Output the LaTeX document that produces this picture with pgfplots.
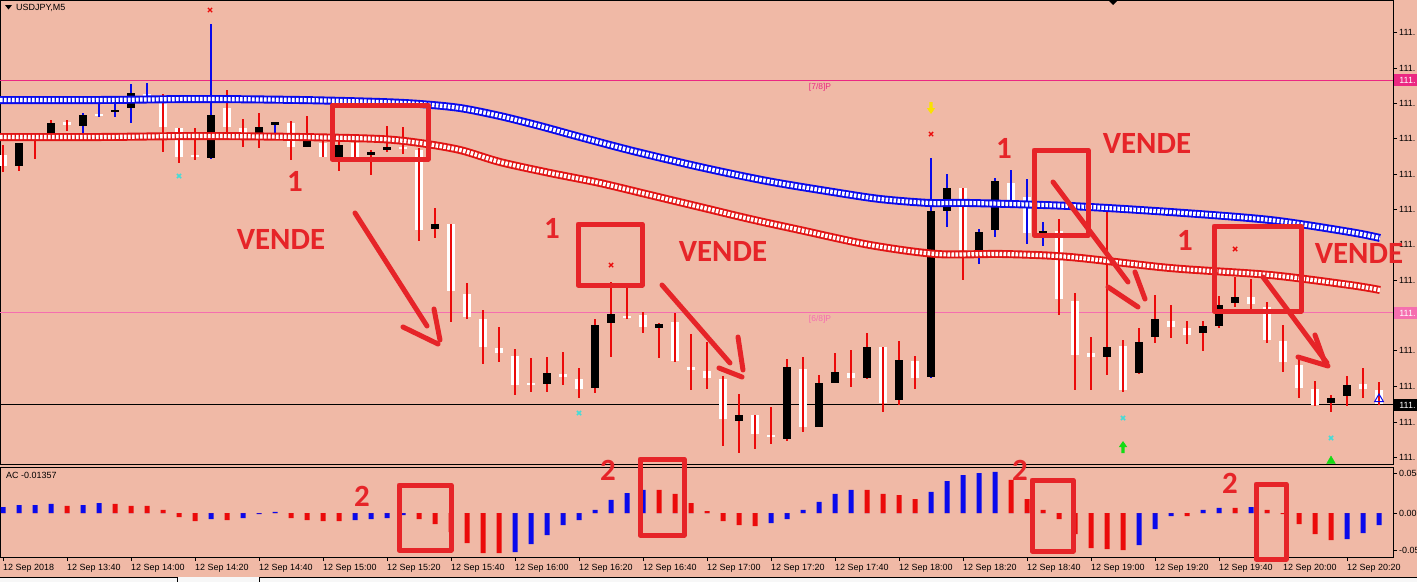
\documentclass[border=0pt]{standalone}
\usepackage{pgfplots}
\pgfplotsset{compat=1.18}
\usepackage{pgfplotstable}
\usepackage{fontspec}
\setmainfont{Liberation Sans}
\newfontfamily\annfont{Carlito}
\definecolor{bg}{RGB}{240,185,166}
\definecolor{annred}{RGB}{230,36,40}
\definecolor{wickred}{RGB}{235,10,10}
\definecolor{mablue}{RGB}{10,10,235}
\definecolor{mared}{RGB}{225,20,20}
\definecolor{lvl78}{RGB}{235,40,130}
\definecolor{lvl68}{RGB}{245,110,175}
\definecolor{cyanx}{RGB}{70,220,215}
\definecolor{arrgreen}{RGB}{20,220,20}
\definecolor{arryellow}{RGB}{250,225,0}

\pgfdeclareplotmark{dnarrow}{%
  \pgfpathmoveto{\pgfqpoint{-0.28\pgfplotmarksize}{\pgfplotmarksize}}%
  \pgfpathlineto{\pgfqpoint{0.28\pgfplotmarksize}{\pgfplotmarksize}}%
  \pgfpathlineto{\pgfqpoint{0.28\pgfplotmarksize}{0pt}}%
  \pgfpathlineto{\pgfqpoint{0.7\pgfplotmarksize}{0pt}}%
  \pgfpathlineto{\pgfqpoint{0pt}{-\pgfplotmarksize}}%
  \pgfpathlineto{\pgfqpoint{-0.7\pgfplotmarksize}{0pt}}%
  \pgfpathlineto{\pgfqpoint{-0.28\pgfplotmarksize}{0pt}}%
  \pgfpathclose\pgfusepathqfill}
\pgfdeclareplotmark{uparrow}{%
  \pgfpathmoveto{\pgfqpoint{-0.28\pgfplotmarksize}{-\pgfplotmarksize}}%
  \pgfpathlineto{\pgfqpoint{0.28\pgfplotmarksize}{-\pgfplotmarksize}}%
  \pgfpathlineto{\pgfqpoint{0.28\pgfplotmarksize}{0pt}}%
  \pgfpathlineto{\pgfqpoint{0.7\pgfplotmarksize}{0pt}}%
  \pgfpathlineto{\pgfqpoint{0pt}{\pgfplotmarksize}}%
  \pgfpathlineto{\pgfqpoint{-0.7\pgfplotmarksize}{0pt}}%
  \pgfpathlineto{\pgfqpoint{-0.28\pgfplotmarksize}{0pt}}%
  \pgfpathclose\pgfusepathqfill}

% candles: x pixel, high, low, body top, body bottom (pixel rows, downwards),
% wc: wick colour 0 red / 1 blue, bc: body 0 white / 1 black
\pgfplotstableread{
x hi lo top bot wc bc
3 145 172 155 166 0 0
19 143 171 143 166 0 1
35 137 159 139 141 0 0
51 120 140 123 138 0 1
67 120 131 122 125 0 0
83 113 133 115 126 1 1
99 100 117 114 116 1 0
115 99 117 110 112 1 1
131 84 123 93 108 1 1
147 83 100 94 98 1 0
163 94 152 100 127 0 0
179 128 163 128 157 0 0
195 128 160 155 157 0 0
211 24 159 115 158 1 1
227 90 133 108 127 0 0
243 119 147 128 135 0 0
259 113 148 127 137 0 1
275 122 137 122 125 1 1
291 121 160 123 147 0 0
307 116 147 140 147 0 1
323 138 157 143 157 0 0
339 139 171 145 157 0 1
355 140 158 143 157 0 0
371 150 175 152 155 0 1
387 126 152 147 150 0 1
403 127 154 147 149 0 0
419 148 241 150 230 0 0
435 208 238 224 229 0 1
451 224 322 224 291 0 0
467 283 319 294 317 0 0
483 310 364 319 347 0 0
499 327 362 348 353 0 0
515 349 395 356 385 0 0
531 358 392 383 385 0 0
547 357 392 373 384 0 1
563 352 385 374 377 0 0
579 368 398 379 389 0 0
595 319 393 325 388 0 1
611 282 357 314 323 0 1
627 287 319 316 318 0 0
643 312 333 315 327 0 0
659 323 358 324 328 0 1
675 313 362 322 361 0 0
691 334 390 367 370 0 0
707 342 389 371 378 0 0
723 376 446 379 419 0 0
739 394 453 415 421 0 1
755 415 449 415 434 0 0
771 407 444 435 437 0 0
787 359 441 367 439 0 1
803 357 432 369 427 0 0
819 375 427 383 427 0 1
835 353 383 372 383 0 1
851 350 387 373 378 0 0
867 333 379 347 378 0 1
883 347 412 347 403 0 0
899 341 405 360 400 0 1
915 356 389 361 378 0 0
931 158 378 211 377 1 1
947 174 227 188 211 1 1
963 188 280 188 250 0 0
979 229 264 232 252 1 1
995 178 237 181 230 1 1
1011 170 200 183 200 1 0
1027 179 244 197 233 1 0
1043 222 246 231 233 1 1
1059 219 315 231 299 0 0
1075 293 390 301 355 0 0
1091 337 390 353 357 0 0
1107 210 375 347 357 0 1
1123 340 392 346 390 0 0
1139 328 374 342 373 0 1
1155 295 343 319 337 0 1
1171 305 338 321 327 0 0
1187 321 344 328 335 0 0
1203 321 351 326 333 0 1
1219 296 328 305 326 0 1
1235 277 307 297 303 0 1
1251 279 310 297 304 0 0
1267 302 343 307 340 0 0
1283 325 372 341 362 0 0
1299 357 398 365 388 0 0
1315 381 406 389 405 0 0
1331 395 412 398 403 0 1
1347 376 406 385 396 0 1
1363 368 398 384 389 0 0
1379 382 405 390 404 0 0
}\candles

\pgfplotstableread{
x y
0 100
100 100
200 99
300 100
380 102
420 104
460 108
500 116
540 126
580 137
633 151
700 167
767 181
833 192
880 199
930 203
970 203
1070 206
1170 212
1270 220
1350 232
1380 238
}\bluema

\pgfplotstableread{
x y
0 137
100 137
200 136
300 137
380 139
420 143
460 150
500 162
550 173
600 183
650 195
700 207
750 219
800 230
870 245
937 254
1003 254
1070 257
1170 268
1270 275
1350 285
1380 290
}\redma

% Accelerator oscillator: x pixel, value, c: 0 red / 1 blue
\pgfplotstableread{
x v c
3 0.0081 1
19 0.0108 1
35 0.0108 1
51 0.0122 1
67 0.0095 0
83 0.0108 1
99 0.0135 1
115 0.0122 0
131 0.0095 0
147 0.0095 0
163 0.0041 0
179 -0.0054 0
195 -0.0108 0
211 -0.0081 1
227 -0.0095 0
243 -0.0068 1
259 -0.0014 1
275 0.0014 1
291 -0.0068 0
307 -0.0095 0
323 -0.0108 0
339 -0.0108 0
355 -0.0095 1
371 -0.0081 1
387 -0.0068 1
403 -0.0027 1
419 -0.0081 0
435 -0.0149 0
451 -0.0257 0
467 -0.0405 0
483 -0.054 0
499 -0.054 0
515 -0.0527 1
531 -0.0419 1
547 -0.0297 1
563 -0.0162 1
579 -0.0095 1
595 0.0041 1
611 0.0176 1
627 0.027 1
643 0.0311 1
659 0.0311 0
675 0.0257 0
691 0.0135 0
707 0.0027 0
723 -0.0108 0
739 -0.0162 0
755 -0.0176 0
771 -0.0135 1
787 -0.0081 1
803 0.0041 1
819 0.0149 1
835 0.0257 1
851 0.0311 1
867 0.0311 0
883 0.0257 0
899 0.0243 0
915 0.0189 0
931 0.0284 1
947 0.0432 1
963 0.0513 1
979 0.054 1
995 0.0554 1
1011 0.0446 0
1027 0.0189 0
1043 0.0041 0
1059 -0.0081 0
1075 -0.0284 0
1091 -0.0473 0
1107 -0.0486 0
1123 -0.05 0
1139 -0.0432 1
1155 -0.0216 1
1171 -0.0041 1
1187 -0.0041 0
1203 0.0041 1
1219 0.0068 1
1235 0.0068 0
1251 0.0081 1
1267 0.0041 0
1283 -0.0014 0
1299 -0.0149 0
1315 -0.0284 0
1331 -0.0365 0
1347 -0.0351 1
1363 -0.027 1
1379 -0.0162 1
}\acdata

\tikzset{ann/.style={annred, line width=5bp, line cap=round, line join=round},
  anntext/.style={text=annred, inner sep=0pt, font=\annfont\bfseries\fontsize{31}{31}\selectfont}}

\begin{document}
\begin{tikzpicture}
\fill[bg] (0bp,0bp) rectangle (1417bp,-582bp);
\useasboundingbox (0bp,0bp) rectangle (1417bp,-582bp);

\begin{axis}[
  at={(0bp,0bp)}, anchor=north west, scale only axis,
  width=1393bp, height=464bp,
  xmin=0, xmax=1393, ymin=0, ymax=464, y dir=reverse,
  clip=false,
  axis line style={black, line width=1bp},
  xtick=\empty,
  ytick={32,68,103,138,174,209,244,280,350,386,422,457},
  yticklabels={111.,111.,111.,111.,111.,111.,111.,111.,111.,111.,111.,111.},
  ytick pos=right, yticklabel pos=right,
  tick align=outside, major tick length=4bp,
  tick style={black, line width=0.8bp},
  yticklabel style={font=\fontsize{9}{10}\selectfont, anchor=west, inner sep=0pt, xshift=2bp},
]
% level lines
\addplot[lvl78, line width=1bp] coordinates {(0,80) (1393,80)};
\addplot[lvl68, line width=0.8bp] coordinates {(0,312) (1393,312)};
\addplot[black, line width=0.8bp] coordinates {(0,404) (1393,404)};
% candles: white bodies, wicks, black bodies
\addplot[quiver={u=0, v=\thisrow{bot}-\thisrow{top}}, draw=white, line width=8bp, line cap=butt, mark=none, restrict y to domain=-50:600]
  table[x=x, y expr={\thisrow{bc}==0 ? \thisrow{top} : -999}] {\candles};
\addplot[quiver={u=0, v=\thisrow{lo}-\thisrow{hi}}, draw=wickred, line width=1.8bp, line cap=butt, mark=none, restrict y to domain=-50:600]
  table[x=x, y expr={\thisrow{wc}==0 ? \thisrow{hi} : -999}] {\candles};
\addplot[quiver={u=0, v=\thisrow{lo}-\thisrow{hi}}, draw=mablue, line width=1.8bp, line cap=butt, mark=none, restrict y to domain=-50:600]
  table[x=x, y expr={\thisrow{wc}==1 ? \thisrow{hi} : -999}] {\candles};
\addplot[quiver={u=0, v=\thisrow{bot}-\thisrow{top}}, draw=black, line width=8bp, line cap=butt, mark=none, restrict y to domain=-50:600]
  table[x=x, y expr={\thisrow{bc}==1 ? \thisrow{top} : -999}] {\candles};
% moving average bands
\addplot[mablue, line width=8bp, smooth, mark=none] table {\bluema};
\addplot[white, line width=4.2bp, dash pattern=on 2.6bp off 1.4bp, smooth, mark=none] table {\bluema};
\addplot[mared, line width=8bp, smooth, mark=none] table {\redma};
\addplot[white, line width=4.2bp, dash pattern=on 2.6bp off 1.4bp, smooth, mark=none] table {\redma};
% signal marks
\addplot[only marks, mark=x, mark size=3bp, wickred, line width=1.4bp] coordinates {(210,10) (611,265) (931,134) (1235,249)};
\addplot[only marks, mark=x, mark size=3bp, cyanx, line width=1.6bp] coordinates {(179,176) (579,413) (1123,418) (1331,438)};
\addplot[only marks, mark=dnarrow, mark size=6bp, arryellow] coordinates {(931,108)};
\addplot[only marks, mark=uparrow, mark size=6bp, arrgreen] coordinates {(1123,447)};
\addplot[only marks, mark=triangle*, mark size=5bp, arrgreen] coordinates {(1331,461)};
\addplot[only marks, mark=triangle, mark size=5bp, mablue, line width=1bp] coordinates {(1379,399)};
% level labels
\node[lvl78, font=\fontsize{8.5}{9}\selectfont, inner sep=0pt] at (axis cs:820,87) {[7/8]P};
\node[lvl68, font=\fontsize{8.5}{9}\selectfont, inner sep=0pt] at (axis cs:820,319) {[6/8]P};
\end{axis}

\begin{axis}[
  at={(0bp,-467bp)}, anchor=north west, scale only axis,
  width=1393bp, height=90bp,
  xmin=0, xmax=1393, ymin=-0.0594, ymax=0.0621,
  clip=false,
  axis line style={black, line width=1bp},
  xtick={3,67,...,1347},
  xticklabels={12 Sep 2018,12 Sep 13:40,12 Sep 14:00,12 Sep 14:20,12 Sep 14:40,12 Sep 15:00,12 Sep 15:20,12 Sep 15:40,12 Sep 16:00,12 Sep 16:20,12 Sep 16:40,12 Sep 17:00,12 Sep 17:20,12 Sep 17:40,12 Sep 18:00,12 Sep 18:20,12 Sep 18:40,12 Sep 19:00,12 Sep 19:20,12 Sep 19:40,12 Sep 20:00,12 Sep 20:20},
  xtick pos=bottom, xticklabel pos=bottom,
  ytick={0.054,0,-0.05},
  yticklabels={0.054,0.00,-0.05},
  ytick pos=right, yticklabel pos=right,
  tick align=outside, major tick length=4bp,
  tick style={black, line width=0.8bp},
  xticklabel style={font=\fontsize{9}{10}\selectfont, anchor=north west, inner sep=0pt, xshift=0bp, yshift=-3bp},
  yticklabel style={font=\fontsize{9}{10}\selectfont, anchor=west, inner sep=0pt, xshift=2bp},
  scaled y ticks=false,
]
\addplot[ybar, bar width=5bp, bar shift=0pt, fill=mablue, draw=none]
  table[x=x, y expr={\thisrow{c}==1 ? \thisrow{v} : 0}] {\acdata};
\addplot[ybar, bar width=5bp, bar shift=0pt, fill=wickred, draw=none]
  table[x=x, y expr={\thisrow{c}==0 ? \thisrow{v} : 0}] {\acdata};
\end{axis}

\begin{scope}[x=1bp, y=-1bp]
% header texts
\fill[black] (5,5) -- (12,5) -- (8.5,9.5) -- cycle;
\node[anchor=west, inner sep=0pt, font=\fontsize{9}{10}\selectfont] at (16,7.5) {USDJPY,M5};
\node[anchor=west, inner sep=0pt, font=\fontsize{9}{10}\selectfont] at (6,475.5) {AC -0.01357};
\fill[black] (1108,0) -- (1118,0) -- (1113,5) -- cycle;
% highlighted price boxes
\node[fill=lvl78, text=white, anchor=west, inner sep=0pt, minimum height=12bp, minimum width=24bp, font=\fontsize{9}{10}\selectfont] at (1394,80) {~111.};
\node[fill=lvl68, text=white, anchor=west, inner sep=0pt, minimum height=12bp, minimum width=24bp, font=\fontsize{9}{10}\selectfont] at (1394,313) {~111.};
\node[fill=black, text=white, anchor=west, inner sep=0pt, minimum height=12bp, minimum width=24bp, font=\fontsize{9}{10}\selectfont] at (1394,405) {~111.};
% annotations: boxes
\draw[ann] (332,105) rectangle (428,159);
\draw[ann] (578,224) rectangle (642,285);
\draw[ann] (1034,150) rectangle (1088,235);
\draw[ann] (1214,226) rectangle (1301,311);
\draw[ann] (399,485) rectangle (451,550);
\draw[ann] (640,459) rectangle (684,535);
\draw[ann] (1032,480) rectangle (1073,551);
\draw[ann] (1256,484) rectangle (1286,559);
% annotations: arrows
\draw[ann] (355,213) -- (427,326);
\draw[ann] (403,327) -- (438,344);
\draw[ann] (434,309) -- (440,340);
\draw[ann] (662,285) -- (730,363);
\draw[ann] (719,368) -- (742,377);
\draw[ann] (738,337) -- (743,370);
\draw[ann] (1053,182) -- (1128,282);
\draw[ann] (1108,287) -- (1138,307);
\draw[ann] (1135,272) -- (1145,299);
\draw[ann] (1263,277) -- (1327,363);
\draw[ann] (1298,357) -- (1328,366);
\draw[ann] (1315,335) -- (1325,363);
% annotations: texts
\node[anntext] at (281,239) {VENDE};
\node[anntext] at (723,251) {VENDE};
\node[anntext] at (1147,143) {VENDE};
\node[anntext] at (1359,253) {VENDE};
\node[anntext] at (295,181) {1};
\node[anntext] at (552,228) {1};
\node[anntext] at (1004,148) {1};
\node[anntext] at (1185,240) {1};
\node[anntext] at (362,496) {2};
\node[anntext] at (608,470) {2};
\node[anntext] at (1020,470) {2};
\node[anntext] at (1230,483) {2};
% bottom tab strip
\fill[white!94!gray] (0,577) rectangle (1417,582);
\draw[black, line width=1bp] (0,577.5) -- (177,577.5) -- (177,582);
\draw[black, line width=1bp] (259,582) -- (259,577.5) -- (1417,577.5);
\end{scope}
\end{tikzpicture}
\end{document}
